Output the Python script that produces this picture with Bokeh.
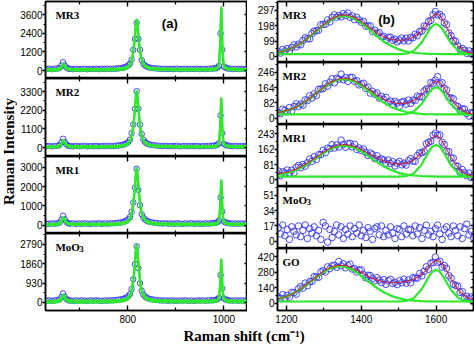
import math
from bokeh.plotting import figure
from bokeh.models import Range1d, LinearAxis, FixedTicker, Label
from bokeh.layouts import row, column
from bokeh.embed import file_html
from bokeh.resources import INLINE

# ---------------- panel (a): 630-1050 cm-1 ----------------
a_names = ["MR3", "MR2", "MR1", "MoO3"]
a_x = [630, 636, 642, 648, 654, 658, 662, 665.5, 669, 672.5, 676, 680, 686, 692, 698, 704, 710, 716, 722, 728,
       734, 740, 746, 752, 758, 764, 770, 776, 781, 786, 790.5, 794, 797.5, 801, 804.5, 808, 811.5, 815, 818.5, 822,
       825.5, 829, 832.5, 836, 839.5, 843, 848, 854, 860, 866, 872, 878, 884, 890, 896, 902, 908, 914, 920, 926,
       932, 938, 944, 950, 956, 962, 968, 974, 979, 983.5, 986.5, 989.5, 993, 996.5, 1000, 1003.5, 1007, 1012, 1018, 1024,
       1030, 1036, 1042, 1048]
a_mr3 = [95, 120, 85, 110, 130, 160, 310, 535, 330, 190, 130, 105, 90, 115, 95, 100, 120, 85, 105, 95,
         115, 90, 110, 100, 120, 105, 115, 125, 140, 160, 185, 215, 260, 330, 440, 700, 1335, 2045, 3080, 2045,
         1335, 670, 430, 320, 255, 210, 175, 150, 135, 120, 105, 115, 95, 110, 100, 120, 90, 105, 115, 95,
         110, 100, 120, 90, 110, 100, 115, 120, 130, 150, 190, 300, 2400, 1350, 260, 180, 140, 120, 100, 115,
         95, 110, 100, 115]
a_mr2 = [75, 95, 70, 90, 105, 140, 300, 513, 320, 175, 110, 85, 70, 95, 75, 80, 100, 65, 85, 75,
         95, 70, 90, 80, 100, 85, 95, 105, 120, 140, 165, 195, 245, 320, 460, 843, 1355, 2280, 3317, 2280,
         1355, 800, 470, 320, 245, 200, 160, 135, 115, 100, 85, 95, 75, 90, 80, 100, 70, 85, 95, 75,
         90, 80, 100, 70, 90, 80, 95, 100, 110, 130, 165, 240, 1885, 843, 210, 150, 115, 100, 80, 95,
         75, 90, 80, 95]
a_mr1 = [85, 70, 95, 80, 100, 135, 280, 487, 300, 165, 105, 80, 95, 70, 90, 75, 95, 80, 70, 95,
         80, 100, 75, 90, 80, 95, 100, 110, 125, 145, 170, 200, 240, 310, 420, 695, 1175, 1950, 2920, 1830,
         1035, 570, 390, 290, 230, 190, 160, 130, 115, 95, 85, 100, 80, 90, 75, 95, 85, 70, 90, 80,
         100, 75, 90, 85, 70, 95, 80, 100, 110, 125, 160, 230, 1435, 710, 190, 140, 110, 95, 80, 90,
         75, 95, 80, 90]
a_moo3 = [90, 105, 80, 100, 115, 140, 260, 434, 280, 160, 110, 95, 80, 100, 85, 105, 90, 80, 100, 85,
          105, 90, 80, 100, 90, 105, 110, 120, 135, 150, 175, 200, 240, 300, 400, 641, 1123, 1846, 2700, 1653,
          930, 563, 380, 285, 230, 190, 160, 140, 120, 105, 95, 100, 85, 100, 90, 80, 100, 90, 105, 85,
          95, 80, 100, 90, 105, 85, 100, 105, 115, 130, 160, 220, 1316, 675, 195, 145, 115, 100, 90, 105,
          85, 100, 90, 100]

a_fit_x = [630, 650, 658, 662, 664, 666, 668, 670, 674, 682, 700, 760, 780, 792, 800, 806, 810, 813, 815.5, 817,
           818.5, 820, 822, 824.5, 827, 831, 837, 845, 860, 900, 960, 980, 987, 990, 992, 993.5, 994.5, 995.5, 997, 999,
           1002, 1010, 1030, 1049]
a_mr3_comp = [0, 4, 46, 171, 296, 380, 304, 182, 68, 15, 2, 13, 33, 81, 163, 423, 910, 1560, 2373, 2990,
              3250, 2990, 2308, 1495, 910, 455, 211, 98, 39, 10, 8, 32, 122, 446, 1539, 3159, 4050, 3078, 1256, 405,
              142, 41, 8, 4]
a_mr3_fit = [100, 104, 146, 271, 396, 480, 404, 282, 168, 115, 102, 113, 133, 181, 263, 523, 1010, 1660, 2473, 3090,
             3350, 3090, 2408, 1595, 1010, 555, 311, 198, 139, 110, 108, 132, 222, 546, 1639, 3259, 4150, 3178, 1356, 505,
             242, 141, 108, 104]
a_mr2_comp = [0, 4, 47, 176, 304, 390, 312, 187, 70, 16, 2, 13, 33, 83, 165, 429, 924, 1584, 2409, 3036,
              3300, 3036, 2343, 1518, 924, 462, 215, 99, 40, 10, 6, 23, 87, 317, 1096, 2250, 2885, 2193, 894, 289,
              101, 29, 6, 3]
a_mr2_fit = [80, 84, 127, 256, 384, 470, 392, 267, 150, 96, 82, 93, 113, 163, 245, 509, 1004, 1664, 2489, 3116,
             3380, 3116, 2423, 1598, 1004, 542, 295, 179, 120, 90, 86, 103, 167, 397, 1176, 2330, 2965, 2273, 974, 369,
             181, 109, 86, 83]
a_mr1_comp = [0, 4, 43, 162, 281, 360, 288, 173, 65, 14, 2, 12, 29, 73, 146, 380, 818, 1402, 2132, 2686,
              2920, 2686, 2073, 1343, 818, 409, 190, 88, 35, 9, 5, 18, 69, 253, 874, 1794, 2300, 1748, 713, 230,
              81, 23, 5, 2]
a_mr1_fit = [80, 84, 123, 242, 361, 440, 368, 253, 145, 94, 82, 92, 109, 153, 226, 460, 898, 1482, 2212, 2766,
             3000, 2766, 2153, 1423, 898, 489, 270, 168, 115, 89, 85, 98, 149, 333, 954, 1874, 2380, 1828, 793, 310,
             161, 103, 85, 82]
a_moo3_comp = [0, 3, 37, 140, 242, 310, 248, 149, 56, 12, 2, 11, 27, 68, 136, 354, 762, 1306, 1986, 2502,
               2720, 2502, 1931, 1251, 762, 381, 177, 82, 33, 8, 4, 16, 61, 223, 771, 1583, 2030, 1543, 629, 203,
               71, 20, 4, 2]
a_moo3_fit = [90, 93, 127, 230, 332, 400, 338, 239, 146, 102, 92, 101, 117, 158, 226, 444, 852, 1396, 2076, 2592,
              2810, 2592, 2021, 1341, 852, 471, 267, 172, 123, 98, 94, 106, 151, 313, 861, 1673, 2120, 1633, 719, 293,
              161, 110, 94, 92]

a_yticks_mr3 = [0, 1200, 2400, 3600]
a_yticks_mr2 = [0, 1100, 2200, 3300]
a_yticks_mr1 = [0, 1000, 2000, 3000]
a_yticks_moo3 = [0, 930, 1860, 2790]
a_yminor_mr3 = [-600, 600, 1800, 3000, 4200]
a_yminor_mr2 = [-550, 550, 1650, 2750, 3850]
a_yminor_mr1 = [500, 1500, 2500, 3500]
a_yminor_moo3 = [465, 1395, 2325, 3255]
a_xticks = [800, 1000]
a_xminor = [700, 900]

# ---------------- panel (b): 1180-1700 cm-1 ----------------
b_names = ["MR3", "MR2", "MR1", "MoO3", "GO"]
b_x = [1178, 1184, 1190, 1196, 1202, 1208, 1214, 1220, 1226, 1232, 1238, 1244, 1250, 1256, 1262, 1268, 1274, 1280,
       1286, 1292, 1298, 1304, 1310, 1316, 1322, 1328, 1334, 1340, 1346, 1352, 1358, 1364, 1370, 1376, 1382, 1388,
       1394, 1400, 1406, 1412, 1418, 1424, 1430, 1436, 1442, 1448, 1454, 1460, 1466, 1472, 1478, 1484, 1490, 1496,
       1502, 1508, 1514, 1520, 1526, 1532, 1538, 1544, 1550, 1556, 1562, 1568, 1574, 1580, 1586, 1592, 1598, 1604,
       1610, 1616, 1622, 1628, 1634, 1640, 1646, 1652, 1658, 1664, 1670, 1676, 1682, 1688, 1694, 1700]
b_mr3 = [32, 22, 46, 35, 51, 36, 58, 75, 62, 79, 75, 103, 120, 114, 114, 148, 164, 165, 170, 205, 207, 208,
         236, 223, 253, 269, 253, 265, 255, 277, 265, 280, 253, 262, 237, 253, 236, 220, 227, 195, 198, 198,
         160, 169, 150, 154, 128, 130, 106, 124, 124, 104, 112, 94, 105, 119, 100, 118, 100, 123, 120, 144,
         134, 161, 164, 197, 193, 226, 233, 270, 290, 268, 272, 256, 217, 205, 152, 135, 104, 98, 68, 43,
         52, 40, 20, 36, 16, 24]
b_mr2 = [28, 24, 48, 41, 34, 57, 37, 62, 77, 63, 75, 70, 98, 94, 120, 108, 130, 121, 155, 156, 158, 184,
         171, 193, 211, 189, 213, 209, 236, 206, 217, 197, 218, 218, 197, 201, 178, 183, 187, 159, 166, 134,
         144, 128, 135, 107, 117, 101, 112, 84, 91, 72, 90, 81, 64, 86, 90, 75, 97, 79, 97, 94,
         118, 115, 114, 146, 156, 156, 191, 187, 204, 222, 184, 190, 159, 151, 111, 108, 104, 68, 62, 40,
         50, 49, 25, 11, 30, 32]
b_mr1 = [47, 22, 43, 36, 52, 37, 51, 37, 66, 76, 64, 81, 72, 90, 110, 98, 122, 107, 133, 133, 156, 143,
         167, 164, 186, 168, 184, 173, 210, 187, 172, 191, 193, 174, 188, 160, 168, 154, 163, 145, 128, 142,
         133, 112, 127, 106, 111, 105, 88, 105, 86, 96, 73, 88, 98, 79, 88, 78, 101, 112, 99, 97,
         128, 143, 143, 151, 190, 198, 204, 236, 245, 236, 238, 199, 186, 151, 149, 115, 115, 75, 71, 40,
         55, 38, 22, 36, 12, 22]
b_moo3 = [15, 8, 18, 6, 13, 2, 16, 11, 7, 17, 5, 12, 18, 3, 14, 9, 16, 6, 12, 2, 21, 17,
          -1, 13, 4, 11, 18, 7, 16, 3, 13, 8, 17, 5, 14, 9, 18, 6, 12, 4, 15, 11,
          2, 14, 16, 7, 17, 5, 12, 7, 16, 9, 3, 14, 13, 5, 17, 8, 13, 13, 6, 17,
          8, 15, 3, 12, 18, 7, 11, 5, 14, 18, 8, 2, 13, 16, 9, 5, 17, 12, 6, 16,
          3, 14, 19, 7, 11, 4]
b_go = [54, 43, 77, 42, 70, 54, 97, 95, 81, 129, 149, 135, 181, 157, 194, 196, 239, 235, 233, 282, 292, 280,
        327, 311, 337, 341, 323, 375, 336, 354, 318, 339, 351, 307, 311, 280, 300, 299, 257, 227, 252, 249,
        221, 201, 230, 208, 186, 212, 169, 201, 214, 177, 188, 167, 202, 184, 216, 180, 209, 183, 230, 226,
        225, 267, 246, 286, 327, 305, 361, 366, 415, 368, 377, 324, 339, 313, 247, 225, 170, 160, 154, 97,
        105, 46, 61, 39, 56, 13]

b_fit_x = [1178, 1200, 1220, 1240, 1260, 1280, 1300, 1320, 1340, 1360, 1380, 1400, 1420, 1440, 1460, 1480,
           1500, 1520, 1540, 1560, 1570, 1580, 1590, 1600, 1610, 1620, 1630, 1640, 1660, 1680, 1700]
b_mr3_d = [28, 41, 60, 87, 123, 163, 204, 238, 259, 262, 246, 215, 176, 135, 97, 67,
           46, 32, 24, 19, 18, 17, 16, 16, 15, 15, 15, 15, 15, 15, 15]
b_mr3_g = [15, 15, 15, 15, 15, 15, 15, 15, 15, 15, 15, 15, 15, 15, 15, 15,
           15, 18, 35, 85, 124, 165, 197, 209, 197, 165, 124, 85, 35, 18, 15]
b_mr3_fit = [27, 40, 60, 88, 125, 167, 208, 243, 264, 268, 254, 226, 190, 155, 127, 110,
             104, 108, 125, 160, 187, 222, 258, 276, 265, 230, 180, 132, 62, 30, 18]
b_mr2_d = [30, 40, 55, 75, 102, 134, 165, 191, 207, 209, 197, 174, 143, 112, 83, 60,
           44, 33, 27, 23, 22, 21, 21, 20, 20, 20, 20, 20, 20, 20, 20]
b_mr2_g = [20, 20, 20, 20, 20, 20, 20, 20, 20, 20, 20, 20, 20, 20, 20, 20,
           20, 22, 35, 73, 102, 133, 157, 166, 157, 133, 102, 73, 35, 22, 20]
b_mr2_fit = [30, 40, 55, 76, 103, 135, 167, 194, 211, 214, 203, 182, 153, 125, 102, 85,
             78, 80, 95, 122, 142, 165, 188, 200, 192, 168, 136, 104, 55, 30, 22]
b_mr1_d = [26, 34, 47, 65, 88, 115, 142, 165, 178, 180, 170, 150, 123, 96, 71, 52,
           37, 28, 23, 20, 19, 18, 18, 17, 17, 17, 17, 17, 17, 17, 17]
b_mr1_g = [17, 17, 17, 17, 17, 17, 17, 17, 17, 17, 17, 17, 17, 17, 17, 17,
           17, 20, 34, 77, 112, 147, 175, 185, 175, 147, 112, 77, 34, 20, 17]
b_mr1_fit = [32, 40, 52, 70, 93, 120, 147, 170, 184, 186, 177, 160, 138, 117, 100, 88,
             83, 88, 105, 140, 165, 195, 222, 234, 222, 192, 155, 118, 60, 30, 18]
b_go_d = [39, 60, 91, 132, 181, 234, 283, 318, 333, 323, 292, 245, 192, 141, 98, 66,
          44, 30, 22, 18, 17, 16, 15, 15, 15, 15, 15, 15, 15, 15, 15]
b_go_g = [15, 15, 15, 15, 15, 15, 15, 15, 15, 15, 15, 15, 15, 15, 15, 15,
          15, 20, 44, 118, 175, 236, 282, 300, 282, 236, 175, 118, 44, 20, 15]
b_go_fit = [40, 60, 92, 134, 184, 238, 288, 325, 342, 337, 312, 275, 238, 210, 193, 186,
            186, 194, 215, 255, 285, 325, 365, 385, 372, 335, 280, 215, 120, 55, 28]

b_yticks_mr3 = [0, 99, 198, 297]
b_yticks_mr2 = [0, 82, 164, 246]
b_yticks_mr1 = [0, 81, 162, 243]
b_yticks_moo3 = [0, 17, 34, 51]
b_yticks_go = [0, 140, 280, 420]
b_yminor_mr3 = [49.5, 148.5, 247.5, 346.5]
b_yminor_mr2 = [41, 123, 205, 287]
b_yminor_mr1 = [40.5, 121.5, 202.5, 283.5]
b_yminor_moo3 = [8.5, 25.5, 42.5, 59.5]
b_yminor_go = [70, 210, 350, 490]
b_xticks = [1200, 1400, 1600]
b_xminor = [1300, 1500, 1700]

# ---------------- styling ----------------
BLUE = "#3434f2"
GREEN = "#2ee82e"
RED = "#d01e2a"
SANS = "Liberation Sans"
SERIF = "Liberation Serif"


def hide_labels(ax):
    ax.major_label_text_font_size = "0px"
    ax.major_label_text_color = None
    ax.major_label_standoff = 0


def style_axis(ax):
    ax.axis_line_width = 1.5
    ax.major_tick_line_width = 1.4
    ax.minor_tick_line_width = 1.2
    ax.axis_line_color = "black"
    ax.major_tick_line_color = "black"
    ax.minor_tick_line_color = "black"


def make_panel(w, h, bl, br, bt, bb, xr, yr, xmaj, xmin, ymaj, ymin, show_x, ylabel_size="10px"):
    p = figure(width=w, height=h, x_range=Range1d(*xr), y_range=Range1d(*yr),
               output_backend="svg", toolbar_location=None,
               x_axis_location=None, y_axis_location=None,
               min_border_left=bl, min_border_right=br, min_border_top=bt, min_border_bottom=bb)
    p.grid.visible = False
    p.outline_line_color = "black"
    p.outline_line_width = 1.5
    p.outline_line_alpha = 1.0
    for side in ("below", "above"):
        ax = LinearAxis(ticker=FixedTicker(ticks=xmaj, minor_ticks=xmin))
        style_axis(ax)
        ax.major_tick_in = 5
        ax.major_tick_out = 0
        ax.minor_tick_in = 3
        ax.minor_tick_out = 0
        if side == "below" and show_x:
            ax.major_label_text_font = SANS
            ax.major_label_text_font_size = "10px"
            ax.major_label_text_color = "black"
            ax.major_label_standoff = 4
        else:
            hide_labels(ax)
        p.add_layout(ax, side)
    ay = LinearAxis(ticker=FixedTicker(ticks=ymaj, minor_ticks=ymin))
    style_axis(ay)
    ay.major_tick_in = 0
    ay.major_tick_out = 3
    ay.minor_tick_in = 0
    ay.minor_tick_out = 2
    ay.major_label_text_font = SANS
    ay.major_label_text_font_size = ylabel_size
    ay.major_label_text_color = "black"
    ay.major_label_standoff = 0
    p.add_layout(ay, "left")
    ar = LinearAxis(ticker=FixedTicker(ticks=ymaj, minor_ticks=ymin))
    style_axis(ar)
    ar.major_tick_in = 3
    ar.major_tick_out = 0
    ar.minor_tick_in = 2
    ar.minor_tick_out = 0
    hide_labels(ar)
    p.add_layout(ar, "right")
    return p


def add_text(p, xr, yr, fw, fh, dx, dy, text, size, font=SERIF, style="bold",
             align="left", baseline="top"):
    x = xr[0] + dx / fw * (xr[1] - xr[0])
    y = yr[1] - dy / fh * (yr[1] - yr[0])
    p.add_layout(Label(x=x, y=y, text=text, text_font=font, text_font_size=f"{size}px",
                       text_font_style=style, text_align=align, text_baseline=baseline,
                       text_color="black"))


def name_label(p, xr, yr, fw, fh, dx, dy, name, size=11):
    if name == "MoO3":
        add_text(p, xr, yr, fw, fh, dx, dy, "MoO", size)
        add_text(p, xr, yr, fw, fh, dx + 24, dy + 5, "3", size - 2)
    else:
        add_text(p, xr, yr, fw, fh, dx, dy, name, size)


BOTTOM = 17   # bottom border (tick labels) of the lowest panels
YLAB_W = 17   # strip for the shared y title

# ---------------- column (a) ----------------
A_XR = (629, 1049)
A_FW = 204
a_data = [a_mr3, a_mr2, a_mr1, a_moo3]
a_comp = [a_mr3_comp, a_mr2_comp, a_mr1_comp, a_moo3_comp]
a_fit = [a_mr3_fit, a_mr2_fit, a_mr1_fit, a_moo3_fit]
a_ticks = [a_yticks_mr3, a_yticks_mr2, a_yticks_mr1, a_yticks_moo3]
a_minor = [a_yminor_mr3, a_yminor_mr2, a_yminor_mr1, a_yminor_moo3]
a_yr = [(-516, 4458), (-530, 4066), (-430, 3554), (-385, 3319)]
a_fh = [77, 78, 77, 77]
a_bt = [1, 0, 0, 0]
a_bb = [0, 0, 0, BOTTOM]
A_BL = 43 - YLAB_W

left_figs = []
for i in range(4):
    h = a_fh[i] + a_bt[i] + a_bb[i]
    p = make_panel(A_BL + A_FW, h, A_BL, 0, a_bt[i], a_bb[i], A_XR, a_yr[i], a_xticks, a_xminor,
                   a_ticks[i], a_minor[i], show_x=(i == 3))
    p.scatter(a_x, a_data[i], marker="circle", size=5.5, fill_color=None,
              line_color=BLUE, line_width=0.9)
    p.line(a_fit_x, a_comp[i], line_color=GREEN, line_width=2.4)
    p.line(a_fit_x, a_fit[i], line_color=GREEN, line_width=2.0)
    name_label(p, A_XR, a_yr[i], A_FW, a_fh[i], 10, 7, a_names[i])
    if i == 0:
        add_text(p, A_XR, a_yr[i], A_FW, a_fh[i], 125.5, 22, "(a)", 13, font=SANS,
                 align="center", baseline="middle")
    left_figs.append(p)

# ---------------- column (b) ----------------
B_XR = (1176, 1700)
B_FW = 196
b_data = [b_mr3, b_mr2, b_mr1, b_moo3, b_go]
b_d = [b_mr3_d, b_mr2_d, b_mr1_d, None, b_go_d]
b_g = [b_mr3_g, b_mr2_g, b_mr1_g, None, b_go_g]
b_fit = [b_mr3_fit, b_mr2_fit, b_mr1_fit, None, b_go_fit]
b_ticks = [b_yticks_mr3, b_yticks_mr2, b_yticks_mr1, b_yticks_moo3, b_yticks_go]
b_minor = [b_yminor_mr3, b_yminor_mr2, b_yminor_mr1, b_yminor_moo3, b_yminor_go]
b_yr = [(-39, 355), (-34, 298), (-35, 292), (-8.2, 61), (-66, 492)]
b_fh = [61, 62, 62, 62, 62]
b_bt = [1, 0, 0, 0, 0]
b_bb = [0, 0, 0, 0, BOTTOM]

right_figs = []
for i in range(5):
    h = b_fh[i] + b_bt[i] + b_bb[i]
    p = make_panel(227, h, 30, 1, b_bt[i], b_bb[i], B_XR, b_yr[i], b_xticks, b_xminor,
                   b_ticks[i], b_minor[i], show_x=(i == 4))
    p.scatter(b_x, b_data[i], marker="circle", size=6.5, fill_color=None,
              line_color=BLUE, line_width=0.9)
    if b_d[i] is not None:
        p.line(b_fit_x, b_d[i], line_color=GREEN, line_width=2.2)
        p.line(b_fit_x, b_g[i], line_color=GREEN, line_width=2.2)
        p.line(b_fit_x, b_fit[i], line_color=RED, line_width=1.2, line_alpha=0.85)
    name_label(p, B_XR, b_yr[i], B_FW, b_fh[i], 5, 7, b_names[i])
    if i == 0:
        add_text(p, B_XR, b_yr[i], B_FW, b_fh[i], 109, 17.5, "(b)", 13, font=SANS,
                 align="center", baseline="middle")
    right_figs.append(p)

TOP_H = 1 + sum(a_fh) + BOTTOM  # 327
XLAB_H = 344 - TOP_H            # 17

# ---------------- shared axis titles ----------------
ylab = figure(width=YLAB_W, height=TOP_H, x_range=Range1d(0, YLAB_W), y_range=Range1d(0, TOP_H),
              output_backend="svg", toolbar_location=None, x_axis_location=None,
              y_axis_location=None, min_border=0, outline_line_color=None)
ylab.grid.visible = False
ylab.add_layout(Label(x=8.5, y=TOP_H - 151, text="Raman Intensity", angle=math.pi / 2,
                      text_align="center", text_baseline="middle", text_font=SERIF,
                      text_font_style="bold", text_font_size="15px", text_color="black"))

xlab = figure(width=474, height=XLAB_H, x_range=Range1d(0, 474), y_range=Range1d(0, XLAB_H),
              output_backend="svg", toolbar_location=None, x_axis_location=None,
              y_axis_location=None, min_border=0, outline_line_color=None)
xlab.grid.visible = False
xlab.add_layout(Label(x=183, y=XLAB_H - 0.3, text="Raman shift (cm\u207b\u00b9)", text_align="left",
                      text_baseline="top", text_font=SERIF, text_font_style="bold",
                      text_font_size="15px", text_color="black"))

layout = column(row(ylab, column(*left_figs), column(*right_figs)), xlab)

open("out.html", "w").write(file_html(layout, INLINE))
